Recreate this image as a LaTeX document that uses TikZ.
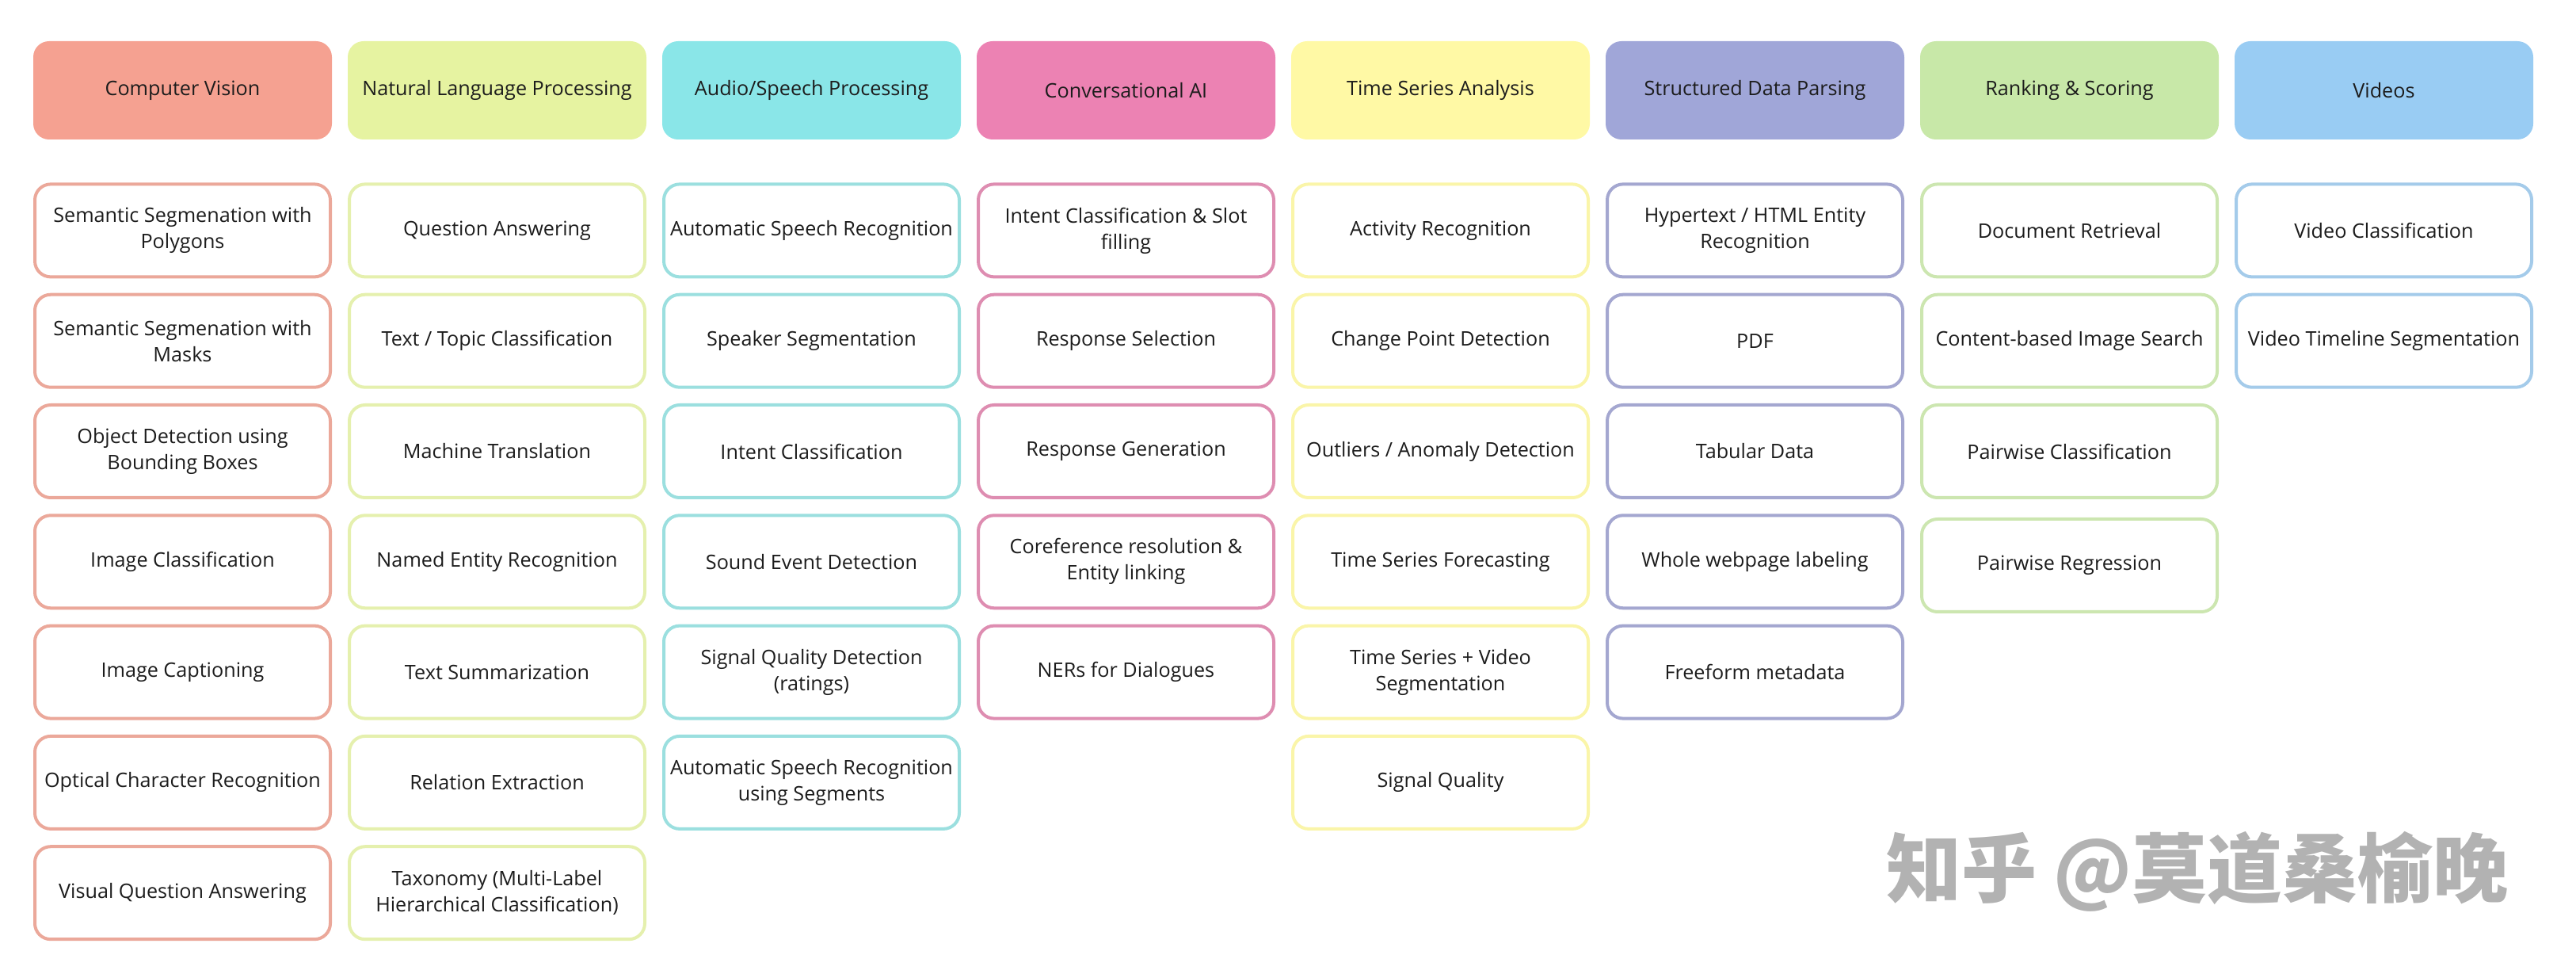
\documentclass[tikz,border=0pt]{standalone}
\usepackage{fontspec}
\setmainfont{Open Sans}
\newfontfamily\cjk{Noto Sans CJK SC}
\usetikzlibrary{positioning}
\definecolor{txt}{HTML}{1C1C1C}
\definecolor{wmgray}{HTML}{B2B2B2}
% header fills and box borders
\definecolor{cvF}{HTML}{F5A191}   \definecolor{cvB}{HTML}{EBA89A}
\definecolor{nlpF}{HTML}{E6F3A1}  \definecolor{nlpB}{HTML}{E5F0AE}
\definecolor{aspF}{HTML}{8AE6E8}  \definecolor{aspB}{HTML}{9BDFDF}
\definecolor{caiF}{HTML}{EC82B3}  \definecolor{caiB}{HTML}{DE8DB1}
\definecolor{tsaF}{HTML}{FFF9A5}  \definecolor{tsaB}{HTML}{FAF5A9}
\definecolor{sdpF}{HTML}{A0A6D8}  \definecolor{sdpB}{HTML}{A4A7D0}
\definecolor{rsF}{HTML}{C8E8A8}   \definecolor{rsB}{HTML}{CCE6B0}
\definecolor{vidF}{HTML}{99CCF3}  \definecolor{vidB}{HTML}{A4CBEA}
\tikzset{
    node distance=9.15pt, % gap between two boxes of a column
    header/.style={ % coloured title of a column
        rectangle, rounded corners=10pt,
        fill=#1, draw=none,
        minimum width=188.5pt, minimum height=62pt,
        font=\fontsize{12.6}{16.5}\selectfont, text=txt
    },
    task/.style={ % white box with coloured frame
        rectangle, rounded corners=10pt,
        draw=#1, line width=2pt, fill=white,
        minimum width=186.5pt, minimum height=58.5pt,
        align=center, inner sep=2pt,
        font=\fontsize{12.6}{16.5}\selectfont, text=txt
    }
}
\begin{document}
\begin{tikzpicture}
    \useasboundingbox (0,0) rectangle (1626pt,-614.5pt);
    % kopfzeile
    \node[header=cvF]  (cv)  at (115.25pt,-57pt)  {Computer Vision};
    \node[header=nlpF] (nlp) at (313.75pt,-57pt)  {Natural Language Processing};
    \node[header=aspF] (asp) at (512.25pt,-57pt)  {Audio/Speech Processing};
    \node[header=caiF] (cai) at (710.75pt,-57pt)  {Conversational AI};
    \node[header=tsaF] (tsa) at (909.25pt,-57pt)  {Time Series Analysis};
    \node[header=sdpF] (sdp) at (1107.75pt,-57pt) {Structured Data Parsing};
    \node[header=rsF]  (rs)  at (1306.25pt,-57pt) {Ranking \& Scoring};
    \node[header=vidF] (vid) at (1504.75pt,-57pt) {Videos};
    % computer vision
    \node[task=cvB, below=27pt of cv] (cv1) {Semantic Segmenation with\\Polygons};
    \node[task=cvB, below=of cv1]     (cv2) {Semantic Segmenation with\\Masks};
    \node[task=cvB, below=of cv2]     (cv3) {Object Detection using\\Bounding Boxes};
    \node[task=cvB, below=of cv3]     (cv4) {Image Classification};
    \node[task=cvB, below=of cv4]     (cv5) {Image Captioning};
    \node[task=cvB, below=of cv5]     (cv6) {Optical Character Recognition};
    \node[task=cvB, below=of cv6]     (cv7) {Visual Question Answering};
    % natural language processing
    \node[task=nlpB, below=27pt of nlp] (nlp1) {Question Answering};
    \node[task=nlpB, below=of nlp1]     (nlp2) {Text / Topic Classification};
    \node[task=nlpB, below=of nlp2]     (nlp3) {Machine Translation};
    \node[task=nlpB, below=of nlp3]     (nlp4) {Named Entity Recognition};
    \node[task=nlpB, below=of nlp4]     (nlp5) {Text Summarization};
    \node[task=nlpB, below=of nlp5]     (nlp6) {Relation Extraction};
    \node[task=nlpB, below=of nlp6]     (nlp7) {Taxonomy (Multi-Label\\Hierarchical Classification)};
    % audio / speech
    \node[task=aspB, below=27pt of asp] (asp1) {Automatic Speech Recognition};
    \node[task=aspB, below=of asp1]     (asp2) {Speaker Segmentation};
    \node[task=aspB, below=of asp2]     (asp3) {Intent Classification};
    \node[task=aspB, below=of asp3]     (asp4) {Sound Event Detection};
    \node[task=aspB, below=of asp4]     (asp5) {Signal Quality Detection\\(ratings)};
    \node[task=aspB, below=of asp5]     (asp6) {Automatic Speech Recognition\\using Segments};
    % conversational ai
    \node[task=caiB, below=27pt of cai] (cai1) {Intent Classification \& Slot\\filling};
    \node[task=caiB, below=of cai1]     (cai2) {Response Selection};
    \node[task=caiB, below=of cai2]     (cai3) {Response Generation};
    \node[task=caiB, below=of cai3]     (cai4) {Coreference resolution \&\\Entity linking};
    \node[task=caiB, below=of cai4]     (cai5) {NERs for Dialogues};
    % time series
    \node[task=tsaB, below=27pt of tsa] (tsa1) {Activity Recognition};
    \node[task=tsaB, below=of tsa1]     (tsa2) {Change Point Detection};
    \node[task=tsaB, below=of tsa2]     (tsa3) {Outliers / Anomaly Detection};
    \node[task=tsaB, below=of tsa3]     (tsa4) {Time Series Forecasting};
    \node[task=tsaB, below=of tsa4]     (tsa5) {Time Series + Video\\Segmentation};
    \node[task=tsaB, below=of tsa5]     (tsa6) {Signal Quality};
    % structured data
    \node[task=sdpB, below=27pt of sdp] (sdp1) {Hypertext / HTML Entity\\Recognition};
    \node[task=sdpB, below=of sdp1]     (sdp2) {PDF};
    \node[task=sdpB, below=of sdp2]     (sdp3) {Tabular Data};
    \node[task=sdpB, below=of sdp3]     (sdp4) {Whole webpage labeling};
    \node[task=sdpB, below=of sdp4]     (sdp5) {Freeform metadata};
    % ranking & scoring
    \node[task=rsB, below=27pt of rs] (rs1) {Document Retrieval};
    \node[task=rsB, below=of rs1]     (rs2) {Content-based Image Search};
    \node[task=rsB, below=of rs2]     (rs3) {Pairwise Classification};
    \node[task=rsB, below=11.5pt of rs3] (rs4) {Pairwise Regression};
    % videos
    \node[task=vidB, below=27pt of vid] (vid1) {Video Classification};
    \node[task=vidB, below=of vid1]     (vid2) {Video Timeline Segmentation};
    % wasserzeichen
    \node[font=\cjk\bfseries\fontsize{47.5}{47.5}\selectfont, text=wmgray]
        (wm) at (1387pt,-550pt) {知乎 @莫道桑榆晚};
\end{tikzpicture}
\end{document}
